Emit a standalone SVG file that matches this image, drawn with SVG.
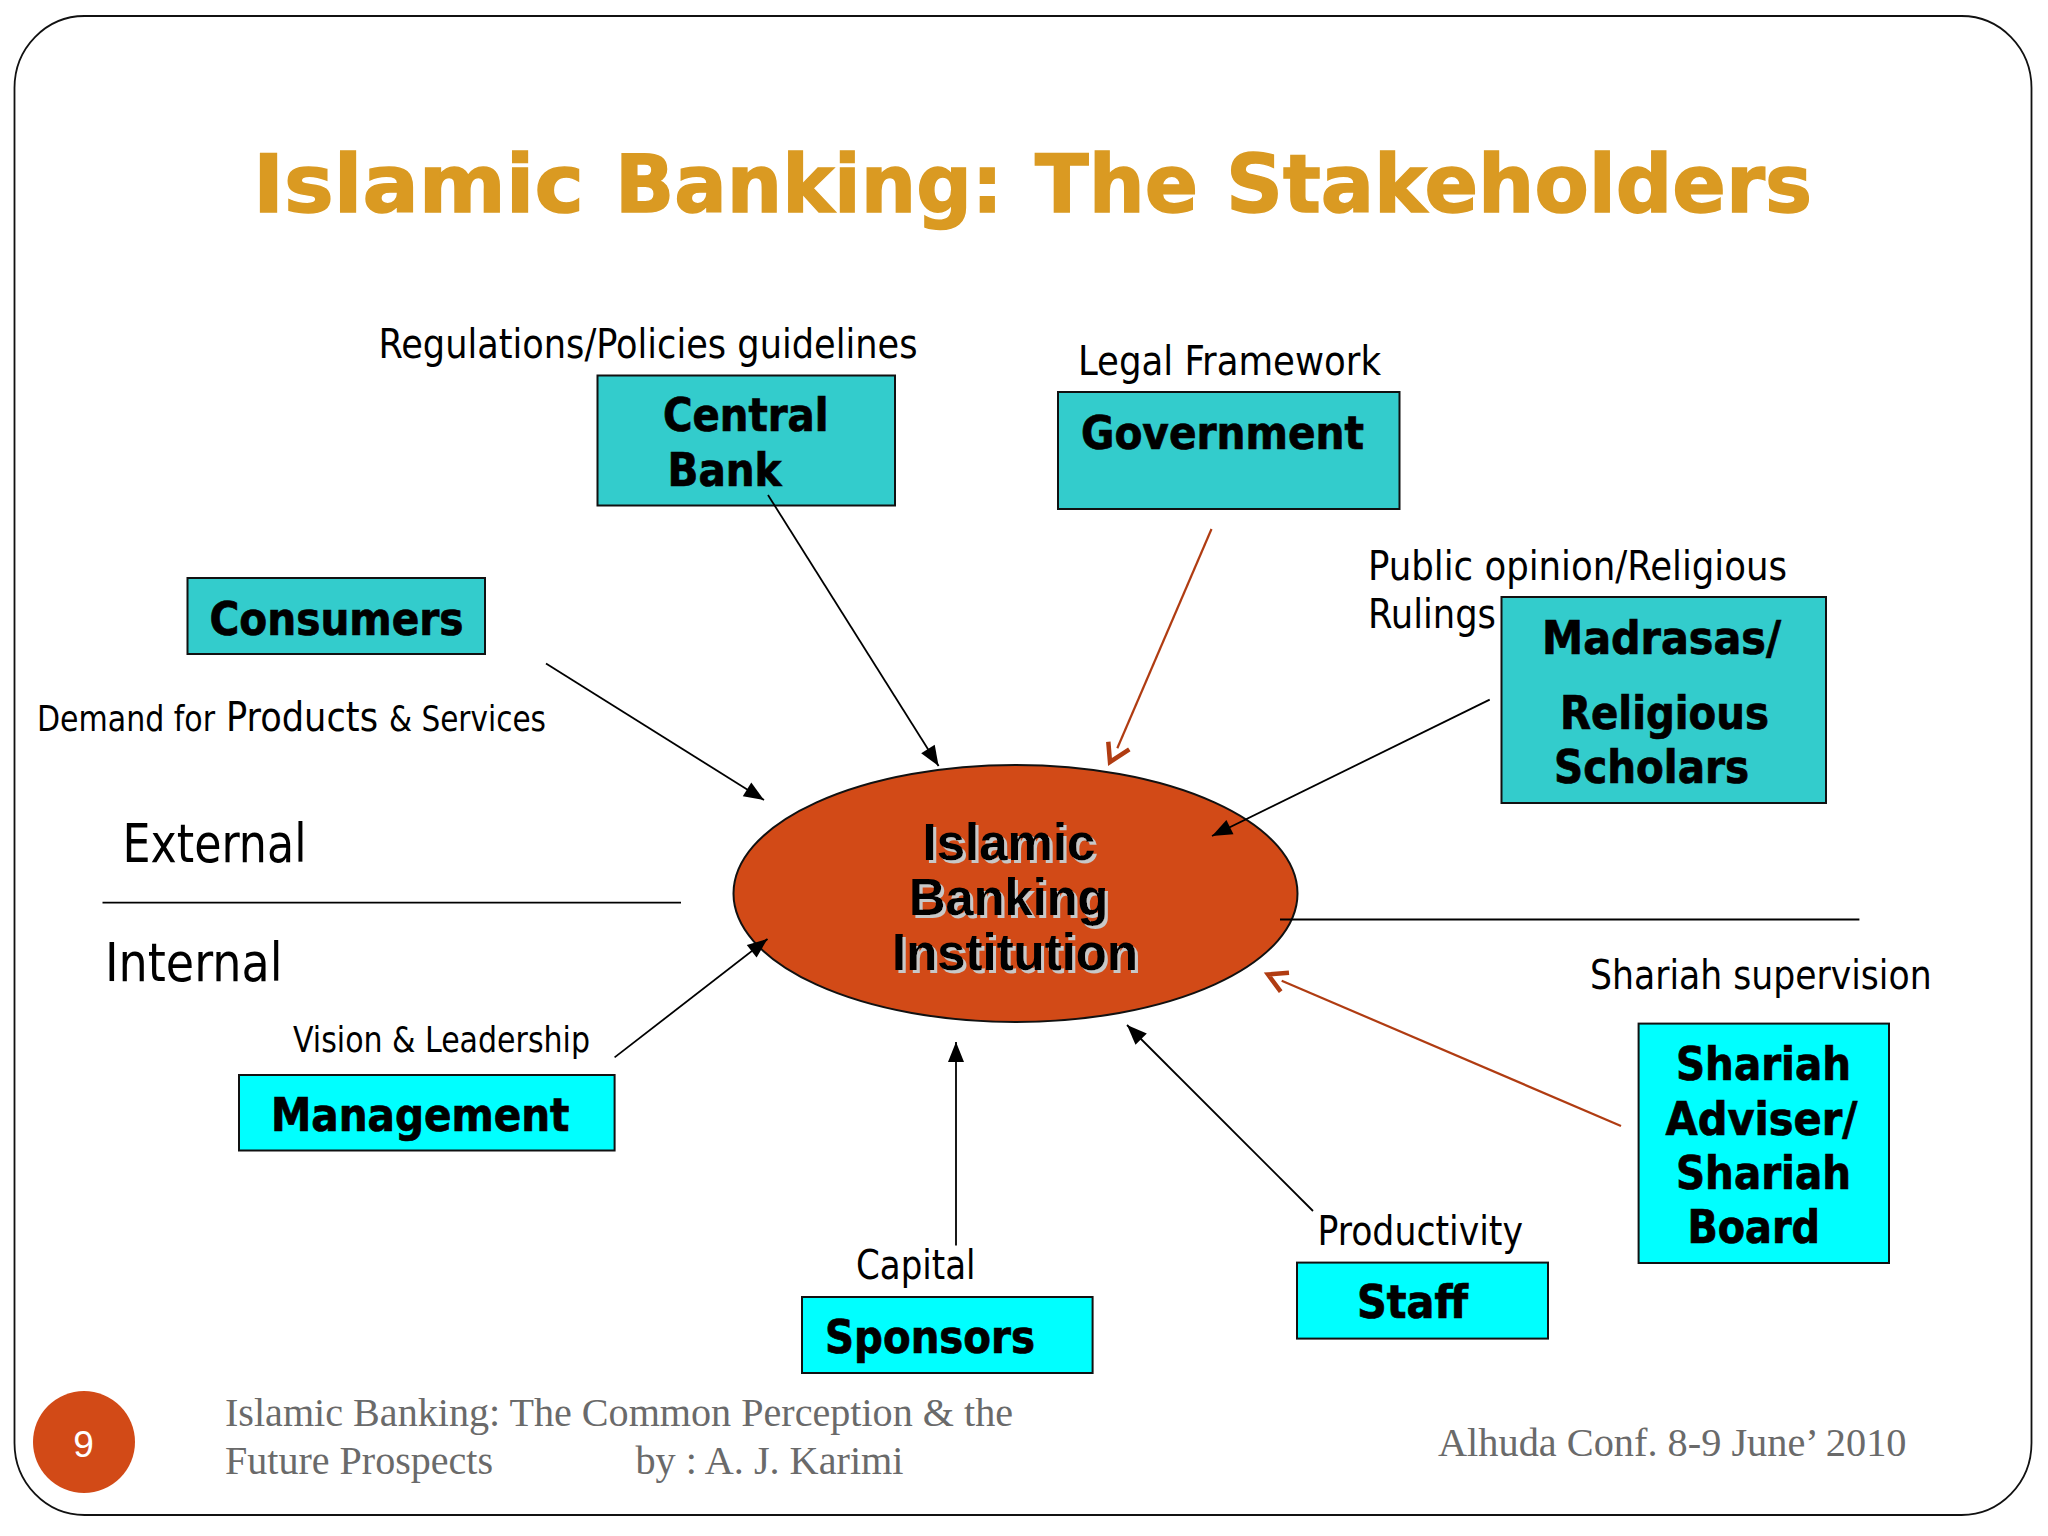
<svg xmlns="http://www.w3.org/2000/svg" width="2048" height="1536" viewBox="0 0 2048 1536">
<style>
.teal{fill:#33CCCC;stroke:#111;stroke-width:2}
.cyan{fill:#00FFFF;stroke:#111;stroke-width:2}
.b{font-family:"DejaVu Sans Condensed","DejaVu Sans",sans-serif;font-weight:bold;font-size:46px;fill:#000;stroke:#000;stroke-width:.7}
.i{font-family:"Liberation Sans",Arial,sans-serif;font-weight:bold;font-size:52px;fill:#000}
.l{font-family:"DejaVu Sans Condensed","DejaVu Sans",sans-serif;font-size:41px;fill:#000}
.f{font-family:"Liberation Serif","Times New Roman",serif;font-size:40px;fill:#6a6a6a}
.k{stroke:#000;stroke-width:1.8;fill:none}
.r{stroke:#B03C12;stroke-width:2.2;fill:none}
.h{stroke:#B03C12;stroke-width:4.5;fill:none}
</style>
<defs>
<marker id="ah" markerUnits="userSpaceOnUse" markerWidth="24" markerHeight="20" refX="22" refY="10" orient="auto"><path d="M2 2L22 10L2 18Z" fill="#000"/></marker>
<filter id="sh" x="-5%" y="-10%" width="110%" height="125%"><feOffset in="SourceAlpha" dx="2.5" dy="2.5" result="o"/><feFlood flood-color="#c8c8c8"/><feComposite in2="o" operator="in"/><feMerge><feMergeNode/><feMergeNode in="SourceGraphic"/></feMerge></filter>
</defs>
<rect width="2048" height="1536" fill="#fff"/>
<rect id="frame" x="14.5" y="16" width="2017" height="1499" rx="70" ry="72" fill="#fff" stroke="#111" stroke-width="1.8"/>
<text id="title" y="212" lengthAdjust="spacingAndGlyphs" style="font-family:'DejaVu Sans',Verdana,sans-serif;font-weight:bold;font-size:80px;fill:#DA9A22;stroke:#DA9A22;stroke-width:1.5"><tspan x="253" textLength="331" lengthAdjust="spacingAndGlyphs">Islamic</tspan> <tspan x="615" textLength="388" lengthAdjust="spacingAndGlyphs">Banking:</tspan> <tspan x="1035" textLength="163" lengthAdjust="spacingAndGlyphs">The</tspan> <tspan x="1226" textLength="586" lengthAdjust="spacingAndGlyphs">Stakeholders</tspan></text>
<g id="n-institution">
<ellipse cx="1015.5" cy="893.5" rx="282" ry="128.5" fill="#D24A17" stroke="#111" stroke-width="2"/>
<g filter="url(#sh)">
<text class="i" x="922.5" y="860" textLength="173" lengthAdjust="spacingAndGlyphs">Islamic</text>
<text class="i" x="909" y="915" textLength="199.5" lengthAdjust="spacingAndGlyphs">Banking</text>
<text class="i" x="892" y="970" textLength="246" lengthAdjust="spacingAndGlyphs">Institution</text>
</g>
</g>
<g id="n-central-bank">
<rect class="teal" x="597.5" y="375.5" width="297.5" height="130"/>
<text class="b" x="663" y="431" textLength="165.5" lengthAdjust="spacingAndGlyphs">Central</text>
<text class="b" x="667.5" y="485.5" textLength="114" lengthAdjust="spacingAndGlyphs">Bank</text>
</g>
<g id="n-government">
<rect class="teal" x="1058" y="392" width="341.5" height="117"/>
<text class="b" x="1081" y="449" textLength="283" lengthAdjust="spacingAndGlyphs">Government</text>
</g>
<g id="n-consumers">
<rect class="teal" x="187.5" y="578" width="297.5" height="76"/>
<text class="b" x="209.5" y="635" textLength="254" lengthAdjust="spacingAndGlyphs">Consumers</text>
</g>
<g id="n-madrasas">
<rect class="teal" x="1501.5" y="597" width="324.5" height="206"/>
<text class="b" x="1542" y="653.6" textLength="239" lengthAdjust="spacingAndGlyphs">Madrasas/</text>
<text class="b" x="1560" y="729" textLength="209" lengthAdjust="spacingAndGlyphs">Religious</text>
<text class="b" x="1554" y="783" textLength="195" lengthAdjust="spacingAndGlyphs">Scholars</text>
</g>
<g id="n-management">
<rect class="cyan" x="239" y="1075" width="375.6" height="75.5"/>
<text class="b" x="271" y="1131" textLength="298.5" lengthAdjust="spacingAndGlyphs">Management</text>
</g>
<g id="n-sponsors">
<rect class="cyan" x="802" y="1297" width="290.6" height="76"/>
<text class="b" x="825" y="1352.5" textLength="210" lengthAdjust="spacingAndGlyphs">Sponsors</text>
</g>
<g id="n-staff">
<rect class="cyan" x="1297" y="1262.6" width="251" height="76"/>
<text class="b" x="1357" y="1318" textLength="111" lengthAdjust="spacingAndGlyphs">Staff</text>
</g>
<g id="n-shariah">
<rect class="cyan" x="1638.6" y="1023.6" width="250.4" height="239.4"/>
<text class="b" x="1676" y="1080" textLength="175" lengthAdjust="spacingAndGlyphs">Shariah</text>
<text class="b" x="1665.5" y="1134.5" textLength="192" lengthAdjust="spacingAndGlyphs">Adviser/</text>
<text class="b" x="1676" y="1188.5" textLength="175" lengthAdjust="spacingAndGlyphs">Shariah</text>
<text class="b" x="1687.5" y="1243" textLength="132.5" lengthAdjust="spacingAndGlyphs">Board</text>
</g>
<g id="connectors">
<line class="k" x1="768" y1="495" x2="938.6" y2="766" marker-end="url(#ah)"/>
<line class="k" x1="546" y1="663.6" x2="764" y2="800" marker-end="url(#ah)"/>
<line class="r" x1="1211.5" y1="529" x2="1117.3" y2="748.3"/>
<polyline class="h" points="1108.3,741.7 1110,762 1129.3,749.3"/>
<line class="k" x1="1489.7" y1="699.6" x2="1212" y2="836" marker-end="url(#ah)"/>
<line class="k" x1="102.5" y1="902.7" x2="681" y2="902.7"/>
<line class="k" x1="1280" y1="919.5" x2="1859.4" y2="919.5"/>
<line class="r" x1="1621" y1="1126" x2="1281.7" y2="980.7"/>
<polyline class="h" points="1289,972.7 1268,974.5 1280.7,991.7"/>
<line class="k" x1="1313" y1="1211" x2="1127" y2="1025" marker-end="url(#ah)"/>
<line class="k" x1="956" y1="1245.5" x2="956" y2="1042" marker-end="url(#ah)"/>
<line class="k" x1="614.6" y1="1057.4" x2="767.5" y2="939" marker-end="url(#ah)"/>
</g>
<g id="labels">
<text class="l" x="378.5" y="358" textLength="539" lengthAdjust="spacingAndGlyphs">Regulations/Policies guidelines</text>
<text class="l" x="1078" y="375" textLength="303" lengthAdjust="spacingAndGlyphs">Legal Framework</text>
<text class="l" x="1368" y="580" textLength="419" lengthAdjust="spacingAndGlyphs">Public opinion/Religious</text>
<text class="l" x="1368" y="628" textLength="128" lengthAdjust="spacingAndGlyphs">Rulings</text>
<text class="l" x="37" y="731" style="font-size:35px" textLength="178" lengthAdjust="spacingAndGlyphs">Demand for</text>
<text class="l" x="226" y="731" textLength="152" lengthAdjust="spacingAndGlyphs">Products</text>
<text class="l" x="389" y="731" style="font-size:35px" textLength="157" lengthAdjust="spacingAndGlyphs">&amp; Services</text>
<text class="l" x="122.5" y="862" style="font-size:54px" textLength="184" lengthAdjust="spacingAndGlyphs">External</text>
<text class="l" x="105" y="981" style="font-size:54px" textLength="177.5" lengthAdjust="spacingAndGlyphs">Internal</text>
<text class="l" x="293" y="1052" style="font-size:36px" textLength="297" lengthAdjust="spacingAndGlyphs">Vision &amp; Leadership</text>
<text class="l" x="856" y="1279" textLength="119.5" lengthAdjust="spacingAndGlyphs">Capital</text>
<text class="l" x="1317.5" y="1245" textLength="205.5" lengthAdjust="spacingAndGlyphs">Productivity</text>
<text class="l" x="1590" y="989" textLength="341.6" lengthAdjust="spacingAndGlyphs">Shariah supervision</text>
</g>
<g id="footer">
<circle cx="84" cy="1442" r="51" fill="#D24A17"/>
<text x="83.6" y="1457" text-anchor="middle" style="font-family:'Liberation Sans',Arial,sans-serif;font-size:37px;fill:#fff">9</text>
<text class="f" x="225" y="1426" textLength="788" lengthAdjust="spacingAndGlyphs">Islamic Banking: The Common Perception &amp; the</text>
<text class="f" x="225" y="1474" textLength="268" lengthAdjust="spacingAndGlyphs">Future Prospects</text>
<text class="f" x="635.5" y="1474" textLength="268" lengthAdjust="spacingAndGlyphs">by : A. J. Karimi</text>
<text class="f" x="1438" y="1456" textLength="468.5" lengthAdjust="spacingAndGlyphs">Alhuda Conf. 8-9 June’ 2010</text>
</g>
</svg>
